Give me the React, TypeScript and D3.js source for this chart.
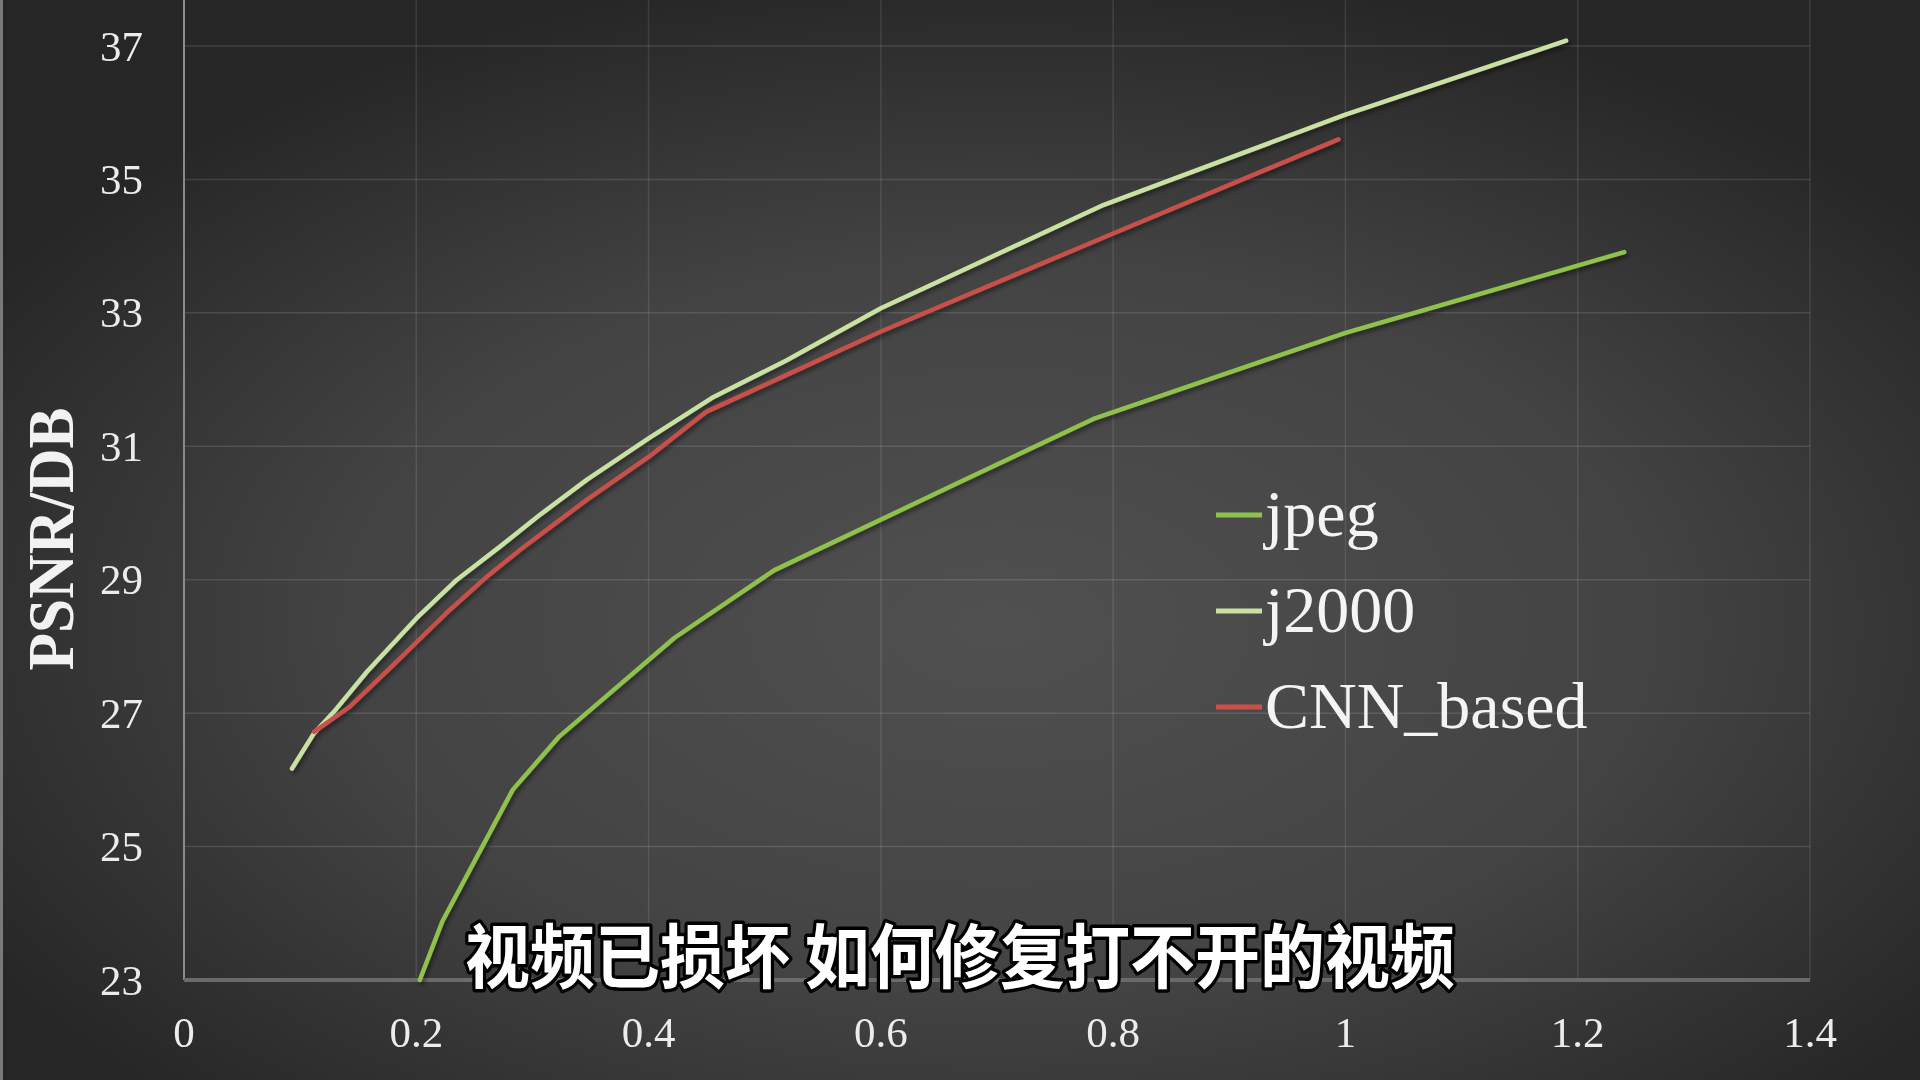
import * as d3 from "d3";

// bit rate (x) / PSNR (y)
const jpegX = [0.203, 0.2225, 0.283, 0.3225, 0.4224, 0.508, 0.664, 0.783, 1.0, 1.24];
const jpegY = [23.0, 23.88, 25.85, 26.64, 28.13, 29.14, 30.43, 31.41, 32.7, 33.91];

const j2000X = [0.093, 0.112, 0.129, 0.1575, 0.2, 0.235, 0.2723, 0.307, 0.347, 0.4, 0.456, 0.519, 0.6, 0.792, 1.0, 1.19];
const j2000Y = [26.17, 26.7, 27.02, 27.62, 28.42, 29.0, 29.5, 29.98, 30.5, 31.12, 31.74, 32.29, 33.07, 34.62, 35.97, 37.08];

const cnnX = [0.112, 0.143, 0.1776, 0.2006, 0.229, 0.261, 0.2895, 0.324, 0.347, 0.4, 0.45, 0.519, 0.6, 0.8, 0.994];
const cnnY = [26.72, 27.1, 27.68, 28.07, 28.55, 29.05, 29.45, 29.9, 30.2, 30.84, 31.52, 32.07, 32.72, 34.19, 35.6];

const seriesNames = ["jpeg", "j2000", "CNN_based"];
const seriesColors = ["#8fc24d", "#c9e2a4", "#c9504a"];

const xTicks = [0, 0.2, 0.4, 0.6, 0.8, 1, 1.2, 1.4];
const yTicks = [23, 25, 27, 29, 31, 33, 35, 37];

const caption = "视频已损坏 如何修复打不开的视频";

const W = 1920;
const H = 1080;
const serif = "'Liberation Serif', 'Times New Roman', serif";

export default function App() {
  const x = d3.scaleLinear().domain([0, 1.4]).range([184, 1810]);
  const y = d3.scaleLinear().domain([23, 37]).range([980, 46]);

  const series = [
    { name: seriesNames[0], xs: jpegX, ys: jpegY, color: seriesColors[0] },
    { name: seriesNames[1], xs: j2000X, ys: j2000Y, color: seriesColors[1] },
    { name: seriesNames[2], xs: cnnX, ys: cnnY, color: seriesColors[2] },
  ];

  const line = d3
    .line<[number, number]>()
    .x((d) => x(d[0]))
    .y((d) => y(d[1]))
    .curve(d3.curveLinear);

  return (
    <svg
      width={W}
      height={H}
      viewBox={`0 0 ${W} ${H}`}
      style={{ position: "fixed", left: 0, top: 0, display: "block" }}
    >
      <defs>
        <radialGradient id="bg" cx="0.52" cy="0.58" r="0.62">
          <stop offset="0" stopColor="#505050" />
          <stop offset="0.55" stopColor="#434343" />
          <stop offset="1" stopColor="#262626" />
        </radialGradient>
        <filter id="shadow" x="-5%" y="-5%" width="110%" height="110%">
          <feDropShadow dx="2" dy="3" stdDeviation="2" floodColor="#000" floodOpacity="0.45" />
        </filter>
      </defs>

      <rect width={W} height={H} fill="url(#bg)" />
      <line x1={1.5} x2={1.5} y1={0} y2={H} stroke="#7a7a7a" strokeWidth={3} />

      {/* grid */}
      <g>
        {yTicks.slice(1).map((t) => (
          <line key={"gy" + t} x1={x(0)} x2={x(1.4)} y1={y(t)} y2={y(t)} stroke="#ffffff" strokeOpacity={0.12} strokeWidth={1.5} />
        ))}
        {xTicks.slice(1).map((t) => (
          <line key={"gx" + t} x1={x(t)} x2={x(t)} y1={0} y2={y(23)} stroke="#ffffff" strokeOpacity={0.1} strokeWidth={1.5} />
        ))}
        <line x1={x(0)} x2={x(0)} y1={0} y2={y(23)} stroke="#8a8a8a" strokeWidth={2} />
        <line x1={x(0)} x2={x(1.4)} y1={y(23)} y2={y(23)} stroke="#6a6a6a" strokeWidth={4} />
      </g>

      {/* tick labels */}
      <g fontFamily={serif} fontSize={43} fill="#ececec">
        {yTicks.map((t) => (
          <text key={"ty" + t} x={143} y={y(t)} textAnchor="end" dominantBaseline="central">
            {t}
          </text>
        ))}
        {xTicks.map((t) => (
          <text key={"tx" + t} x={x(t)} y={1032} textAnchor="middle" dominantBaseline="central">
            {d3.format("~g")(t)}
          </text>
        ))}
      </g>

      <text
        transform="translate(50,539) rotate(-90)"
        textAnchor="middle"
        dominantBaseline="central"
        fontFamily={serif}
        fontWeight="bold"
        fontSize={66}
        fill="#f2f2f2"
        textLength={263}
        lengthAdjust="spacingAndGlyphs"
      >
        PSNR/DB
      </text>

      {/* series */}
      <g filter="url(#shadow)">
        {series.map((s) => (
          <path
            key={s.name}
            d={line(s.xs.map((v, i) => [v, s.ys[i]] as [number, number])) || ""}
            fill="none"
            stroke={s.color}
            strokeWidth={4.5}
            strokeLinecap="round"
            strokeLinejoin="round"
          />
        ))}
      </g>

      {/* legend */}
      <g fontFamily={serif} fontSize={66} fill="#f4f4f4">
        {series.map((s, i) => (
          <g key={"lg" + s.name} transform={`translate(1216,${515 + i * 96})`}>
            <line x1={0} x2={46} y1={0} y2={0} stroke={s.color} strokeWidth={5} />
            <text x={49} y={21}>
              {s.name}
            </text>
          </g>
        ))}
      </g>

      {/* caption */}
      <text
        x={960}
        y={983}
        textAnchor="middle"
        fontFamily="'Noto Sans CJK SC', sans-serif"
        fontWeight={700}
        fontSize={70}
        fill="#ffffff"
        stroke="#000000"
        strokeWidth={7}
        strokeLinejoin="round"
        paintOrder="stroke"
        textLength={990}
        lengthAdjust="spacingAndGlyphs"
      >
        {caption}
      </text>
    </svg>
  );
}
